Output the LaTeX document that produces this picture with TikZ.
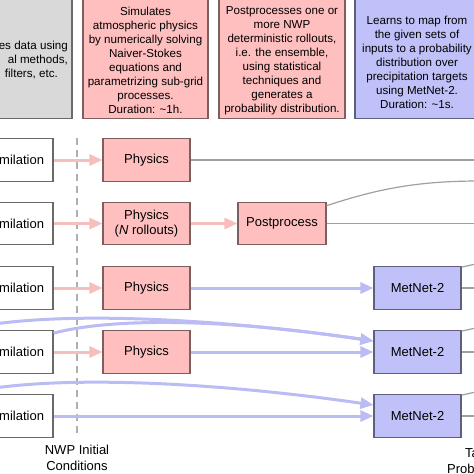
\documentclass[tikz,border=0pt]{standalone}
\usepackage{fontspec}
\setmainfont{Liberation Sans}
\usetikzlibrary{arrows.meta,calc}
\definecolor{pinkfill}{RGB}{255,191,191}
\definecolor{pinkdraw}{RGB}{125,95,95}
\definecolor{bluefill}{RGB}{193,193,250}
\definecolor{bluedraw}{RGB}{95,95,125}
\definecolor{grayfill}{RGB}{217,217,217}
\definecolor{boxdraw}{RGB}{105,105,105}
\definecolor{pinkarrow}{RGB}{247,190,190}
\definecolor{bluearrow}{RGB}{187,187,245}
\definecolor{grayline}{RGB}{160,160,160}
\definecolor{dashgray}{RGB}{175,175,175}
\begin{document}
\begin{tikzpicture}[x=1pt,y=-1pt,
  descbox/.style={draw=boxdraw, line width=1.1pt, inner sep=0pt, minimum height=124pt, anchor=south},
  desctext/.style={align=center, inner sep=0pt, font=\fontsize{11.6}{14}\selectfont},
  stage/.style={draw=boxdraw, line width=1.1pt, minimum width=87pt, minimum height=42.5pt, inner sep=0pt, font=\fontsize{13}{15}\selectfont, align=center},
  assim/.style={stage, fill=white, text width=69pt, align=right},
  physics/.style={stage, fill=pinkfill, draw=pinkdraw},
  metnet/.style={stage, fill=bluefill, draw=bluedraw},
  lbl/.style={inner sep=0pt, font=\fontsize{13}{16}\selectfont},
  pinkarr/.style={draw=pinkarrow, line width=3pt, -{Triangle[length=13pt,width=11pt]}},
  bluearr/.style={draw=bluearrow, line width=3pt, -{Triangle[length=13pt,width=11pt]}},
  grayconn/.style={draw=grayline, line width=1.2pt},
  dashline/.style={draw=dashgray, line width=1.4pt, dash pattern=on 7pt off 5pt}
]
\useasboundingbox (0,0) rectangle (474,474);

% top description boxes
\node[descbox, fill=grayfill, minimum width=172pt] (assimdesc) at (-14,119) {};
\node[desctext, align=right, anchor=east] (assimdesctext) at (68,60.5) {es data using\\al methods,\hspace*{3pt}\\filters, etc.\hspace*{10pt}};
\node[descbox, fill=pinkfill, draw=pinkdraw, minimum width=125pt] (physdesc) at (145.5,119) {};
\node[desctext] (physdesctext) at (145.5,60.5) {Simulates\\atmospheric physics\\by numerically solving\\Naiver-Stokes\\equations and\\parametrizing sub-grid\\processes.\\Duration: \textasciitilde1h.};
\node[descbox, fill=pinkfill, draw=pinkdraw, minimum width=126pt] (postdesc) at (282,119) {};
\node[desctext] (postdesctext) at (282,60.5) {Postprocesses one or\\more NWP\\deterministic rollouts,\\i.e. the ensemble,\\using statistical\\techniques and\\generates a\\probability distribution.};
\node[descbox, fill=bluefill, draw=bluedraw, minimum width=124pt] (metdesc) at (417,119) {};
\node[desctext] (metdesctext) at (417,62) {Learns to map from\\the given sets of\\inputs to a probability\\distribution over\\precipitation targets\\using MetNet-2.\\Duration: \textasciitilde1s.};

% dashed line
\coordinate (dtop) at (77,138);
\coordinate (dbot) at (77,433);
\draw[dashline] (dtop) -- (dbot);

% rows
\node[assim] (a1) at (9.5,160) {milation};
\node[assim] (a2) at (9.5,223.5) {milation};
\node[assim] (a3) at (9.5,288) {milation};
\node[assim] (a4) at (9.5,352) {milation};
\node[assim] (a5) at (9.5,416) {milation};

\node[physics] (p1) at (146.5,160) {Physics};
\node[physics] (p2) at (146.5,223.5) {Physics\\(\textit{N} rollouts)};
\node[physics] (p3) at (146.5,288) {Physics};
\node[physics] (p4) at (146.5,352) {Physics};

\node[physics, minimum width=88pt] (pp) at (282,223.5) {Postprocess};

\node[metnet] (m3) at (417.5,288) {MetNet-2};
\node[metnet] (m4) at (417.5,352) {MetNet-2};
\node[metnet] (m5) at (417.5,416) {MetNet-2};

% pink arrows
\draw[pinkarr] (a1) -- (p1);
\draw[pinkarr] (a2) -- (p2);
\draw[pinkarr] (a3) -- (p3);
\draw[pinkarr] (a4) -- (p4);
\draw[pinkarr] (p2) -- (pp);

% blue arrows
\coordinate (src4) at (-60,336);
\coordinate (src5) at (-60,400);
\draw[bluearr] (p3) -- (m3);
\draw[bluearr] (p4) -- (m4);
\draw[bluearr] (a5) -- (m5);
\draw[bluearr] (src4) .. controls (20,308) and (200,316) .. ($(m4.west)+(0,-11)$);
\draw[bluearr] ($(a4.north east)+(0,3)$) .. controls (110,318) and (220,318) .. ($(m4.west)+(0,-11)$);
\draw[bluearr] (src5) .. controls (20,372) and (200,380) .. ($(m5.west)+(0,-11)$);

% gray outputs
\coordinate (o1) at (480,160);
\coordinate (o2a) at (480,181);
\coordinate (o2b) at (480,223.5);
\coordinate (o3a) at (480,263);
\coordinate (o3b) at (480,288);
\coordinate (o4a) at (480,327);
\coordinate (o4b) at (480,352);
\coordinate (o5a) at (480,391);
\coordinate (o5b) at (480,416);
\draw[grayconn] (p1) -- (o1);
\draw[grayconn] (pp) -- (o2b);
\draw[grayconn] ($(pp.north east)+(0,4)$) .. controls (380,188) and (420,181) .. (o2a);
\draw[grayconn] (m3) -- (o3b);
\draw[grayconn] ($(m3.north east)+(0,1)$) -- (o3a);
\draw[grayconn] (m4) -- (o4b);
\draw[grayconn] ($(m4.north east)+(0,1)$) -- (o4a);
\draw[grayconn] (m5) -- (o5b);
\draw[grayconn] ($(m5.north east)+(0,1)$) -- (o5a);

% labels
\node[lbl, align=center] (nwp) at (77,458) {NWP Initial\\Conditions};
\node[lbl, align=left, anchor=west] (target) at (447,461) {\hspace*{18pt}Ta\\Prob};
\end{tikzpicture}
\end{document}
